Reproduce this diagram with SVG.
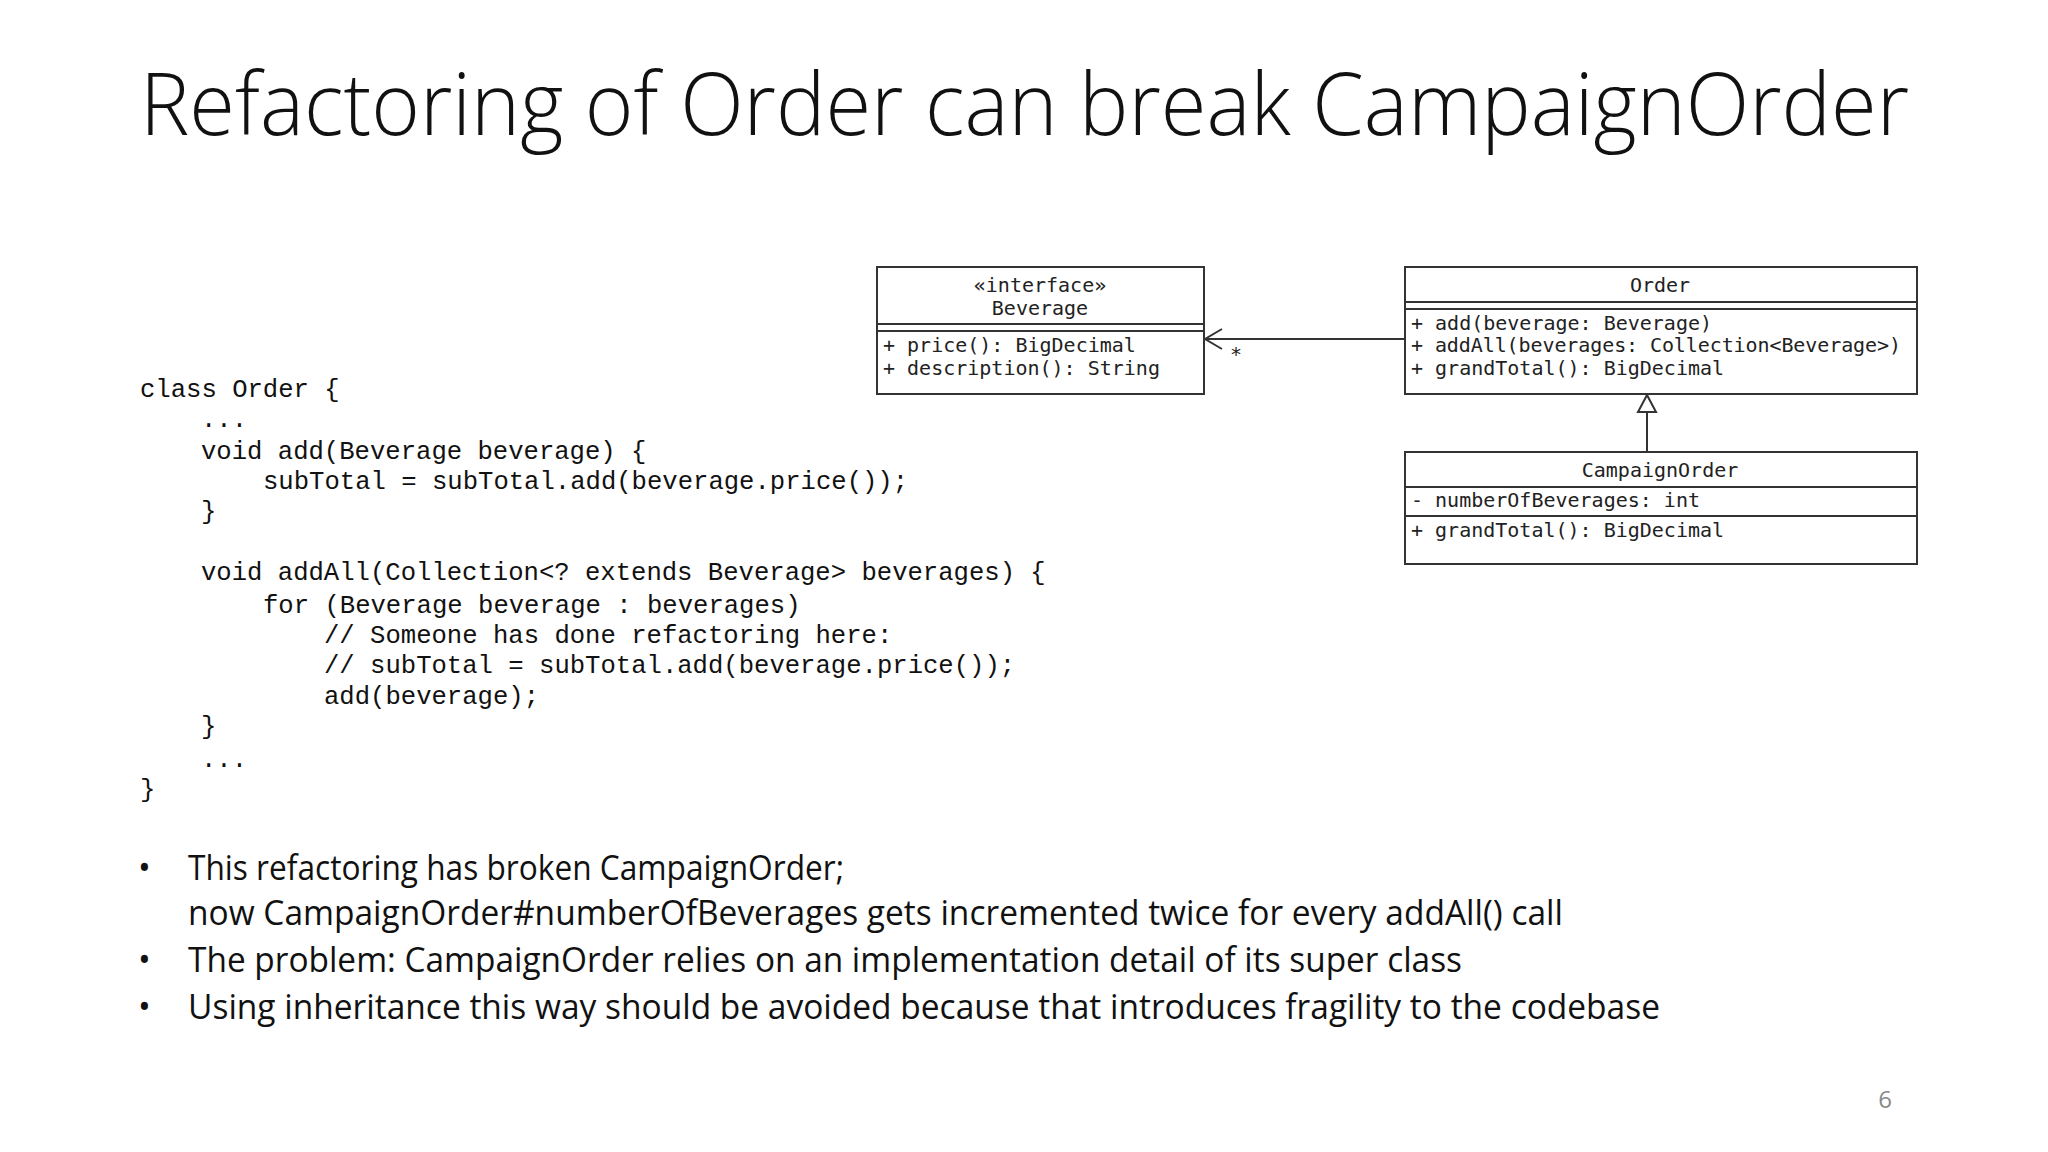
<svg xmlns="http://www.w3.org/2000/svg" width="2048" height="1152" viewBox="0 0 2048 1152">
<style>
.box{fill:#fff;stroke:#333;stroke-width:2}
.ln{stroke:#333;stroke-width:2;fill:none}
.u{font-family:"DejaVu Sans Mono",monospace;font-size:20px;fill:#222}
.c{font-family:"Liberation Mono",monospace;font-size:25.6px;fill:#111;white-space:pre}
.b{font-family:"Open Sans","Liberation Sans",sans-serif;font-size:34px;fill:#111}
</style>
<rect width="2048" height="1152" fill="#fff"/>
<text x="140" y="135" font-family="'Open Sans','Liberation Sans',sans-serif" font-weight="300" font-size="86" fill="#111" textLength="1769" lengthAdjust="spacingAndGlyphs">Refactoring of Order can break CampaignOrder</text>

<g id="code">
<text class="c" x="140" y="397">class Order {</text>
<text class="c" x="201" y="427">...</text>
<text class="c" x="201" y="459">void add(Beverage beverage) {</text>
<text class="c" x="263" y="489">subTotal = subTotal.add(beverage.price());</text>
<text class="c" x="201" y="519">}</text>
<text class="c" x="201" y="580">void addAll(Collection&lt;? extends Beverage&gt; beverages) {</text>
<text class="c" x="263" y="613">for (Beverage beverage : beverages)</text>
<text class="c" x="324" y="643">// Someone has done refactoring here:</text>
<text class="c" x="324" y="673">// subTotal = subTotal.add(beverage.price());</text>
<text class="c" x="324" y="704">add(beverage);</text>
<text class="c" x="201" y="734">}</text>
<text class="c" x="201" y="767">...</text>
<text class="c" x="140" y="797">}</text>
</g>

<g id="connectors">
<line class="ln" x1="1405" y1="339" x2="1205" y2="339"/>
<polyline class="ln" points="1222,329 1205,339 1222,349"/>
<text class="u" x="1230" y="361">*</text>
<line class="ln" x1="1647" y1="412" x2="1647" y2="452"/>
<polygon class="ln" points="1647,395 1638,412 1656,412" style="fill:#fff"/>
</g>

<g id="beverage">
<rect class="box" x="877" y="267" width="327" height="127"/>
<line class="ln" x1="877" y1="324" x2="1204" y2="324"/>
<line class="ln" x1="877" y1="331" x2="1204" y2="331"/>
<text class="u" x="1040" y="292" text-anchor="middle">«interface»</text>
<text class="u" x="1040" y="315" text-anchor="middle">Beverage</text>
<text class="u" x="883" y="352">+ price(): BigDecimal</text>
<text class="u" x="883" y="375">+ description(): String</text>
</g>

<g id="order">
<rect class="box" x="1405" y="267" width="512" height="127"/>
<line class="ln" x1="1405" y1="302" x2="1917" y2="302"/>
<line class="ln" x1="1405" y1="309" x2="1917" y2="309"/>
<text class="u" x="1660" y="292" text-anchor="middle">Order</text>
<text class="u" x="1411" y="330">+ add(beverage: Beverage)</text>
<text class="u" x="1411" y="352" textLength="490">+ addAll(beverages: Collection&lt;Beverage&gt;)</text>
<text class="u" x="1411" y="375">+ grandTotal(): BigDecimal</text>
</g>

<g id="campaignorder">
<rect class="box" x="1405" y="452" width="512" height="112"/>
<line class="ln" x1="1405" y1="487" x2="1917" y2="487"/>
<line class="ln" x1="1405" y1="516" x2="1917" y2="516"/>
<text class="u" x="1660" y="477" text-anchor="middle">CampaignOrder</text>
<text class="u" x="1411" y="507">- numberOfBeverages: int</text>
<text class="u" x="1411" y="537">+ grandTotal(): BigDecimal</text>
</g>

<g id="bullets">
<text class="b" x="138" y="880">•</text>
<text class="b" x="188" y="880" textLength="656" lengthAdjust="spacingAndGlyphs">This refactoring has broken CampaignOrder;</text>
<text class="b" x="188" y="925" textLength="1375" lengthAdjust="spacingAndGlyphs">now CampaignOrder#numberOfBeverages gets incremented twice for every addAll() call</text>
<text class="b" x="138" y="972">•</text>
<text class="b" x="188" y="972" textLength="1274" lengthAdjust="spacingAndGlyphs">The problem: CampaignOrder relies on an implementation detail of its super class</text>
<text class="b" x="138" y="1019">•</text>
<text class="b" x="188" y="1019" textLength="1472" lengthAdjust="spacingAndGlyphs">Using inheritance this way should be avoided because that introduces fragility to the codebase</text>
</g>
<text x="1885" y="1108" font-family="'Open Sans','Liberation Sans',sans-serif" font-size="24" fill="#888" text-anchor="middle">6</text>
</svg>
